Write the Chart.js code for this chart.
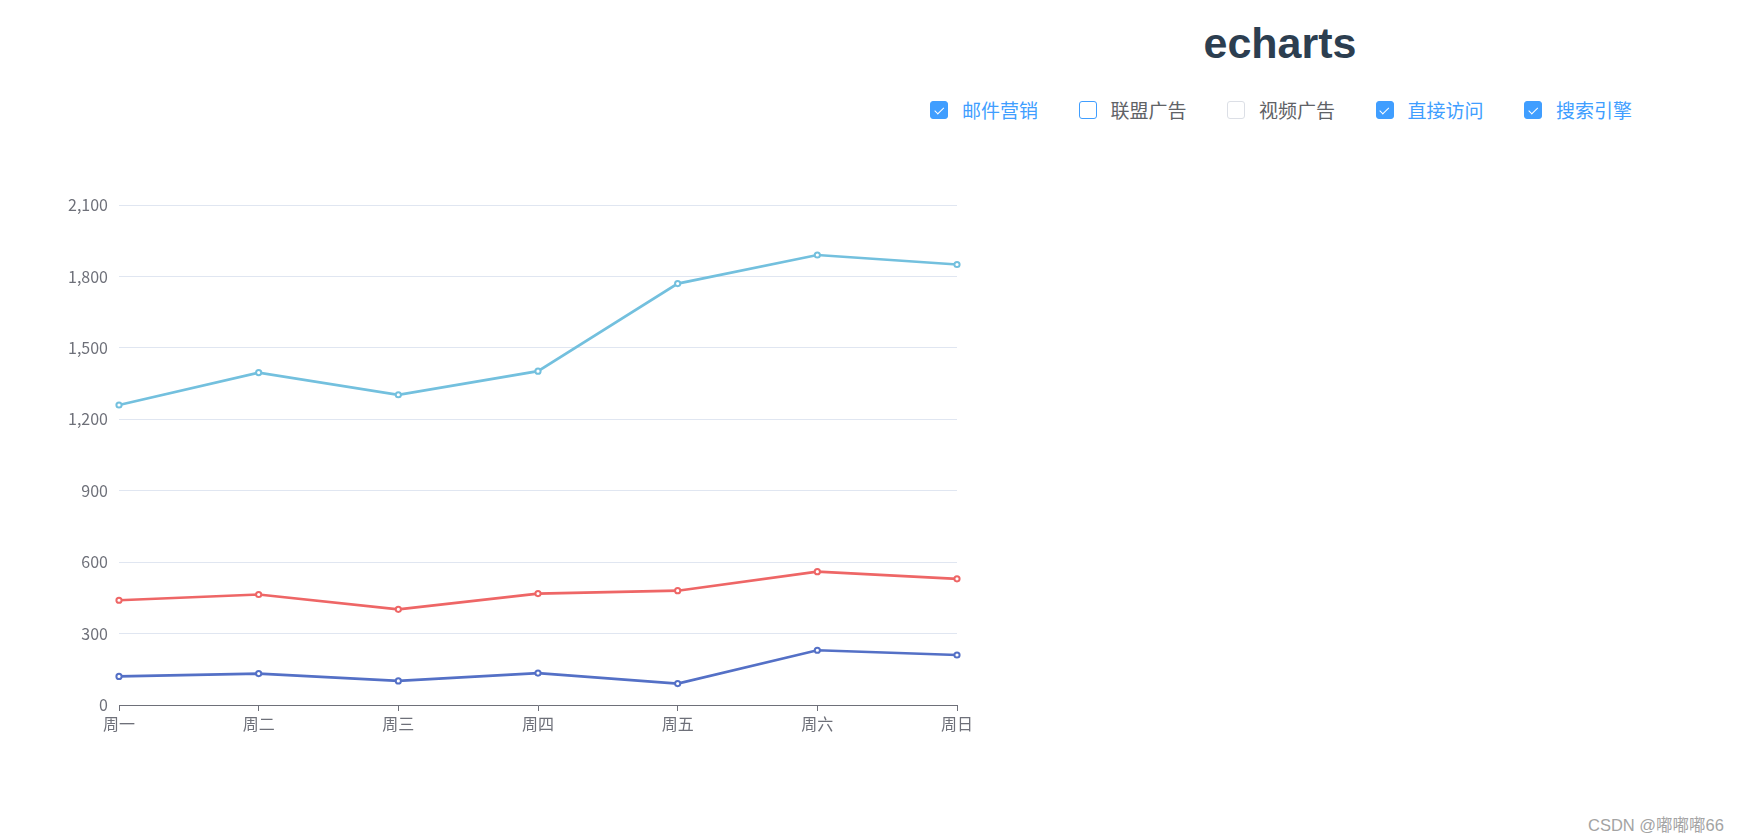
<!DOCTYPE html>
<html>
<head>
<meta charset="utf-8">
<script src="https://cdn.jsdelivr.net/npm/chart.js@4/dist/chart.umd.min.js"></script>
<style>
  html, body { margin: 0; padding: 0; background: #fff; }
  body { width: 1738px; height: 840px; position: relative; overflow: hidden; }
  #title {
    position: absolute; left: 1280px; top: 22px; transform: translateX(-50%);
    font: bold 43px "Liberation Sans", Arial, sans-serif; line-height: 42px;
    color: #2c3e50; margin: 0;
  }
  #boxes { position: absolute; left: 930px; top: 100px; height: 20px; display: flex; }
  .item { display: flex; align-items: center; height: 20px; margin-right: 40.5px; }
  .box {
    width: 16px; height: 16px; border: 1px solid #dcdfe6; border-radius: 3px;
    background: #fff; position: relative; box-sizing: content-box;
  }
  .box.hover { border-color: #409eff; }
  .box.on { background: #409eff; border-color: #409eff; }
  .box.on::after {
    content: ""; position: absolute; left: 5.5px; top: 2.5px; width: 3.5px; height: 7.5px;
    border: 1.3px solid #fff; border-left: 0; border-top: 0; transform: rotate(45deg);
  }
  .label {
    margin-left: 14px; font: 19px "Noto Sans CJK SC", sans-serif; line-height: 20px;
    color: #606266;
  }
  .label.on { color: #409eff; }
  #wrap { position: absolute; left: 0; top: 0; width: 1000px; height: 760px; }
  #mark {
    position: absolute; left: 1588px; top: 812px;
    font: 16.5px "Liberation Sans", Arial, "Noto Sans CJK SC", sans-serif; color: #a3a3a3;
  }
</style>
</head>
<body>
<h1 id="title">echarts</h1>
<div id="boxes"></div>
<div id="wrap"><canvas id="chart"></canvas></div>
<div id="mark">CSDN @嘟嘟嘟66</div>
<script>
// categories and legend
const days = ['周一', '周二', '周三', '周四', '周五', '周六', '周日'];
const legendNames = ['邮件营销', '联盟广告', '视频广告', '直接访问', '搜索引擎'];
const legendChecked = [true, false, false, true, true];

// visible series (stacked)
const mailValues = [120, 132, 101, 134, 90, 230, 210];
const directValues = [320, 332, 301, 334, 390, 330, 320];
const searchValues = [820, 932, 901, 934, 1290, 1330, 1320];

const yMax = 2100;
const yStep = 300;

// checkbox row
const boxes = document.getElementById('boxes');
legendNames.forEach((name, i) => {
    const item = document.createElement('div');
    item.className = 'item';
    const on = legendChecked[i];
    let cls = 'box' + (on ? ' on' : '') + (i === 1 ? ' hover' : '');
    item.innerHTML = '<span class="' + cls + '"></span><span class="label' + (on ? ' on' : '') + '">' + name + '</span>';
    boxes.appendChild(item);
});

function series(label, data, color) {
    return {
        label: label,
        data: data,
        borderColor: color,
        backgroundColor: color,
        borderWidth: 2.7,
        pointRadius: 2.6,
        pointBorderWidth: 2,
        pointBackgroundColor: '#fff',
        pointBorderColor: color,
        tension: 0,
        fill: false
    };
}

const font = { family: '"Noto Sans CJK SC", sans-serif', size: 16 };

new Chart(document.getElementById('chart'), {
    type: 'line',
    data: {
        labels: days,
        datasets: [
            series('邮件营销', mailValues, '#5470c6'),
            series('直接访问', directValues, '#ee6666'),
            series('搜索引擎', searchValues, '#73c0de')
        ]
    },
    options: {
        responsive: true,
        maintainAspectRatio: false,
        animation: false,
        layout: { padding: { left: 67, right: 43, top: 205, bottom: 25 } },
        plugins: { legend: { display: false }, tooltip: { enabled: false } },
        scales: {
            x: {
                offset: false,
                grid: { display: true, drawOnChartArea: false, drawTicks: true, tickLength: 6, color: '#6e7079' },
                border: { display: true, color: '#6e7079', width: 1 },
                ticks: { color: '#6e7079', font: font, padding: 3, maxRotation: 0 },
                afterFit: s => { s.height = 30; }
            },
            y: {
                stacked: true,
                min: 0,
                max: yMax,
                ticks: { stepSize: yStep, color: '#6e7079', font: font, padding: 11 },
                grid: { color: '#e0e6f1', drawTicks: false },
                border: { display: false },
                afterFit: s => { s.width = 52; }
            }
        }
    }
});
</script>
</body>
</html>
